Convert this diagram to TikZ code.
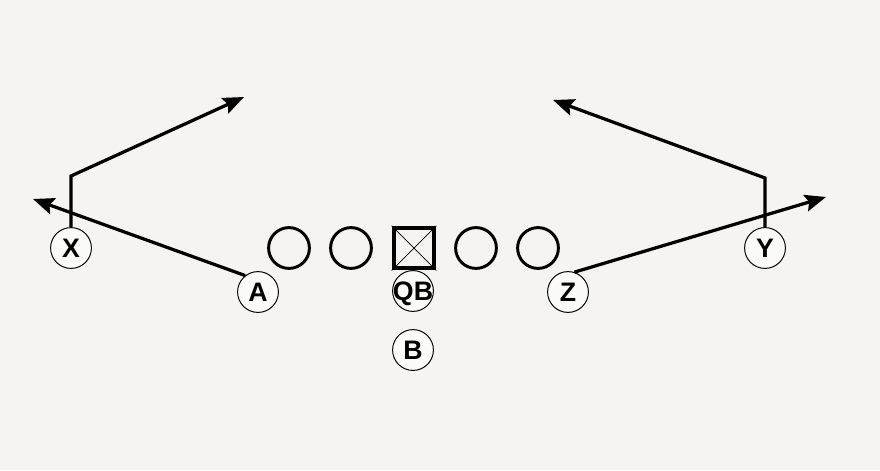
\documentclass[tikz,border=0pt]{standalone}
\usepackage{fontspec}
\setmainfont{Liberation Sans}
\usetikzlibrary{arrows.meta}

\definecolor{paper}{HTML}{F5F4F3}

\begin{document}
\begin{tikzpicture}[x=0.025cm, y=-0.025cm,
    player/.style={circle, draw, line width=0.7pt, fill=white!60!paper, minimum size=1.02cm, inner sep=0pt,
      text depth=0pt, font=\fontsize{19}{22}\selectfont\bfseries},
    lineman/.style={circle, draw, line width=2.1pt, minimum size=1.02cm, inner sep=0pt},
    center/.style={rectangle, draw, line width=2.8pt, minimum size=1.02cm, inner sep=0pt},
    route/.style={line width=2.3pt, -{Stealth[length=15pt, width=12pt, inset=2.5pt]}}]
  % Field
  \fill[paper] (0,0) rectangle (880,470);
  % Offensive line
  \foreach \name/\x in {LT/289, LG/351, RG/476, RT/538}
    \node[lineman] (\name) at (\x,248) {};
  \node[center] (C) at (414,248) {};
  \draw[line width=0.5pt] (C.north west) -- (C.south east);
  \draw[line width=0.5pt] (C.north east) -- (C.south west);
  % Backfield and receivers
  \node[player] (QB) at (413,291) {\makebox[0pt]{QB}};
  \node[player] (B) at (413,350) {B};
  \node[player] (A) at (258,292) {A};
  \node[player] (Z) at (568,292) {Z};
  \node[player] (X) at (71,248) {X};
  \node[player] (Y) at (765,248) {Y};
  % Route breaks and ends
  \coordinate (Xcut) at (71,176);
  \coordinate (Xend) at (244,97);
  \coordinate (Aend) at (33,199);
  \coordinate (Ycut) at (765,178);
  \coordinate (Yend) at (553,100);
  \coordinate (Zend) at (826,197);
  % Routes
  \draw[route] (X.north) -- (Xcut) -- (Xend);
  \draw[route] (A.128) -- (Aend);
  \draw[route] (Y.north) -- (Ycut) -- (Yend);
  \draw[route] (Z.72) -- (Zend);
\end{tikzpicture}
\end{document}
